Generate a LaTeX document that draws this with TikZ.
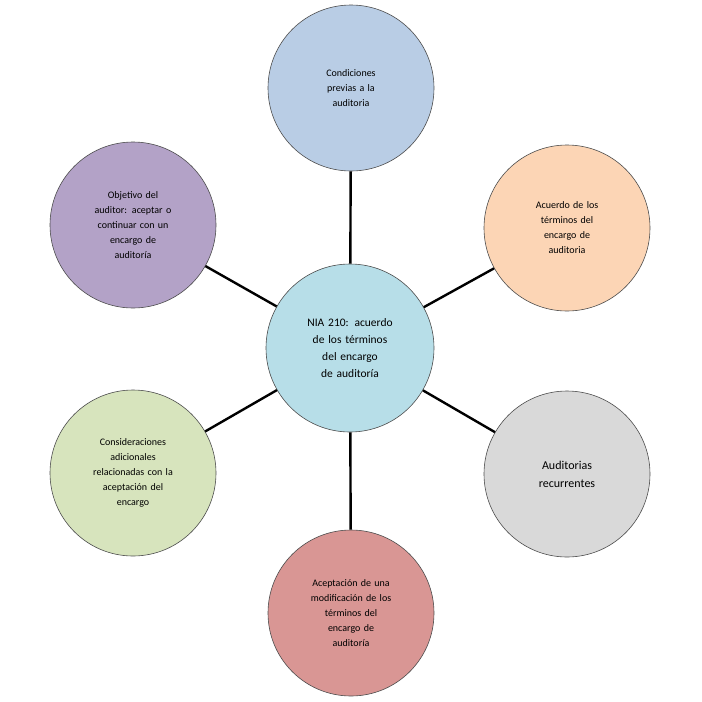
\documentclass[tikz,border=0pt]{standalone}
\usepackage{fontspec}
\setmainfont{Carlito}
\begin{document}
\begin{tikzpicture}[x=1pt,y=-1pt,
 c/.style={circle,draw=black!70,line width=0.6pt,minimum size=166pt,inner sep=0pt,align=center,font=\fontsize{10}{15}\selectfont,text width=110pt},
 l/.style={line width=2.4pt}]
\useasboundingbox (0,0) rectangle (702,702);
\node[c,fill={rgb,255:red,183;green,222;blue,232},font=\fontsize{11.5}{17}\selectfont,minimum size=168pt] (m) at (350,348) {NIA 210: acuerdo\\de los términos\\del encargo\\de auditoría};
\node[c,fill={rgb,255:red,185;green,205;blue,229}] (t) at (351,88) {Condiciones\\previas a la\\auditoria};
\node[c,fill={rgb,255:red,252;green,213;blue,181}] (ur) at (567,228) {Acuerdo de los\\términos del\\encargo de\\auditoria};
\node[c,fill={rgb,255:red,217;green,217;blue,217},font=\fontsize{12}{18}\selectfont] (lr) at (567,474) {Auditorias\\recurrentes};
\node[c,fill={rgb,255:red,217;green,150;blue,148}] (b) at (351,613) {Aceptación de una\\modificación de los\\términos del\\encargo de\\auditoría};
\node[c,fill={rgb,255:red,215;green,228;blue,189}] (ll) at (133,473) {Consideraciones\\adicionales\\relacionadas con la\\aceptación del\\encargo};
\node[c,fill={rgb,255:red,179;green,162;blue,199}] (ul) at (133,225) {Objetivo del\\auditor: aceptar o\\continuar con un\\encargo de\\auditoría};
\foreach \n in {t,ur,lr,b,ll,ul} \draw[l] (m) -- (\n);
\end{tikzpicture}
\end{document}
